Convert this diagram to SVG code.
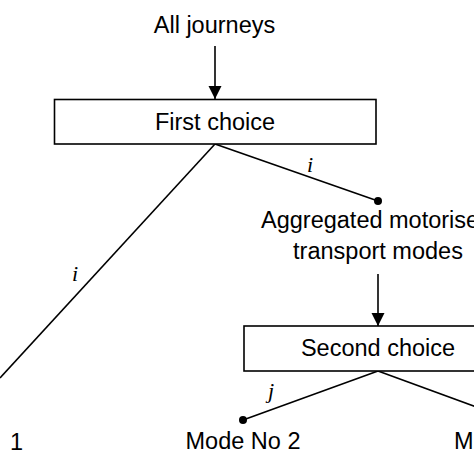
<svg xmlns="http://www.w3.org/2000/svg" width="474" height="474" viewBox="0 0 474 474">
<defs>
<style>
.t{font-family:"Liberation Sans",Arial,sans-serif;font-size:23.5px;fill:#000}
.lab{font-family:"Liberation Serif","Times New Roman",serif;font-style:italic;font-size:22px;fill:#000}
.box{fill:#fff;stroke:#000;stroke-width:1.6}
.ln{stroke:#000;stroke-width:1.6;fill:none}
</style>
<marker id="ah" markerWidth="14" markerHeight="14" refX="13" refY="6.5" orient="auto" markerUnits="userSpaceOnUse">
<path d="M0,0 L13,6.5 L0,13 Z" fill="#000"/>
</marker>
</defs>
<rect width="474" height="474" fill="#fff"/>
<g id="connectors">
<line class="ln" x1="215" y1="46" x2="215" y2="99" marker-end="url(#ah)"/>
<line class="ln" x1="215" y1="144" x2="0" y2="378"/>
<line class="ln" x1="215" y1="144" x2="378" y2="201"/>
<circle cx="378" cy="201" r="4" fill="#000"/>
<line class="ln" x1="378" y1="274" x2="378" y2="326" marker-end="url(#ah)"/>
<line class="ln" x1="378" y1="371" x2="243" y2="420"/>
<circle cx="243" cy="420" r="4" fill="#000"/>
<line class="ln" x1="378" y1="371" x2="512" y2="420"/>
<text class="lab" x="310" y="172" text-anchor="middle">i</text>
<text class="lab" x="75" y="281" text-anchor="middle">i</text>
<text class="lab" x="271" y="398" text-anchor="middle">j</text>
</g>
<g id="all-journeys"><text class="t" x="214.5" y="33" text-anchor="middle">All journeys</text></g>
<g id="first-choice">
<rect class="box" x="54.5" y="99.5" width="321.5" height="44.5"/>
<text class="t" x="215" y="130" text-anchor="middle">First choice</text>
</g>
<g id="aggregated">
<text class="t" x="261" y="228">Aggregated motorise</text>
<text class="t" x="378" y="259" text-anchor="middle">transport modes</text>
</g>
<g id="second-choice">
<rect class="box" x="244" y="326" width="268" height="45"/>
<text class="t" x="378" y="356" text-anchor="middle">Second choice</text>
</g>
<g id="mode1"><text class="t" x="10" y="450">1</text></g>
<g id="mode2"><text class="t" x="243" y="449" text-anchor="middle">Mode No 2</text></g>
<g id="mode3"><text class="t" x="454" y="449">M</text></g>
</svg>
